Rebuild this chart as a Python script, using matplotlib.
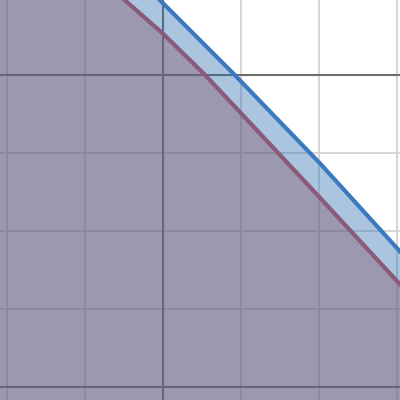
import numpy as np
import matplotlib.pyplot as plt

# curve points (graph units)
blue_x = [-0.10, -0.04, 0.92, 2.01, 3.10]
blue_y = [1.02, 0.96, 0.00, -1.13, -2.33]
purple_x = [-0.55, -0.49, -0.25, 0.00, 0.54, 1.00, 2.00, 3.10]
purple_y = [1.02, 0.96, 0.75, 0.53, 0.00, -0.49, -1.56, -2.75]

x_lo, x_hi = -163 / 78, 237 / 78
y_lo, y_hi = -325 / 78, 75 / 78

fig = plt.figure(figsize=(4, 4), dpi=100)
ax = fig.add_axes([0, 0, 1, 1])
ax.set_xlim(x_lo, x_hi)
ax.set_ylim(y_lo, y_hi)
ax.axis('off')

for gx in range(-2, 4):
    ax.axvline(gx, color='#d0d0d0', lw=1.2, zorder=0)
for gy in range(-4, 1):
    ax.axhline(gy, color='#d0d0d0', lw=1.2, zorder=0)
ax.axvline(0, color='#6e6e6e', lw=1.5, zorder=0)
ax.axhline(0, color='#6e6e6e', lw=1.5, zorder=0)
ax.axhline(-4, color='#6e6e6e', lw=1.5, zorder=0)

bx = [-3] + blue_x
by = [1.02] + blue_y
px = [-3] + purple_x
py = [1.02] + purple_y
ax.fill_between(bx, by, y_lo - 1, color='#2d70b3', alpha=0.4, lw=0, zorder=1)
ax.fill_between(px, py, y_lo - 1, color='#855566', alpha=0.4, lw=0, zorder=2)
ax.plot(blue_x, blue_y, color='#3a7bc0', lw=3, zorder=3)
ax.plot(purple_x, purple_y, color='#8a5a78', lw=3, zorder=3)

fig.savefig('out.png', dpi=100)
